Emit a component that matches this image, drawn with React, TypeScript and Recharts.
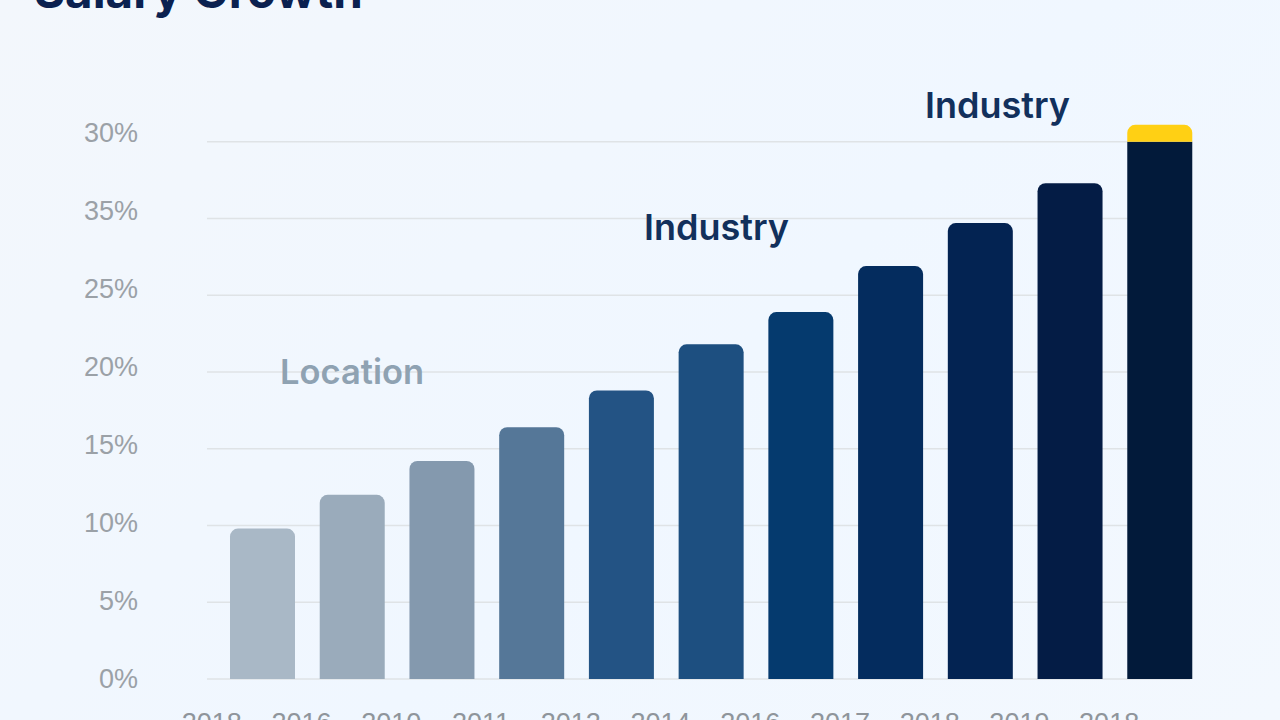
import { Bar, BarChart, CartesianGrid, Cell, XAxis, YAxis } from "recharts";

const years = ["2018", "2016", "2010", "2011", "2012", "2014", "2016", "2017", "2018", "2019", "2018"];
const growth = [9.8, 12, 14.2, 16.4, 18.8, 21.8, 23.9, 26.9, 29.7, 32.3, 35];
const highlight = [0, 0, 0, 0, 0, 0, 0, 0, 0, 0, 1.1];
const barColors = [
    "#a9b8c6", "#9aabbb", "#8499ae", "#557798", "#235384", "#1d4f80",
    "#053a6e", "#042c5e", "#032352", "#041c45", "#021a3a",
];
const yTicks = [0, 5, 10, 15, 20, 25, 30, 35];
const yLabels = ["0%", "5%", "10%", "15%", "20%", "25%", "35%", "30%"];

const data = years.map((year, i) => ({ key: i, year, growth: growth[i], highlight: highlight[i] }));

const axisFont = "'Liberation Sans', sans-serif";
const noteFont = "Inter, sans-serif";

function YTick(props: any) {
    const i = yTicks.indexOf(props.payload.value);
    return (
        <text
            x={138}
            y={props.y - i * 1.2}
            textAnchor="end"
            dominantBaseline="central"
            fontFamily={axisFont}
            fontSize={27}
            fill="#9ba1a7"
        >
            {yLabels[i]}
        </text>
    );
}

function Note(props: { x: number; y: number; size: number; color: string; text: string }) {
    return (
        <div
            style={{
                position: "absolute",
                left: props.x,
                top: props.y,
                color: props.color,
                fontFamily: noteFont,
                fontSize: props.size,
                fontWeight: 600,
                lineHeight: "40px",
                whiteSpace: "nowrap",
            }}
        >
            {props.text}
        </div>
    );
}

export default function App() {
    return (
        <div
            style={{
                position: "fixed",
                left: 0,
                top: 0,
                width: 1280,
                height: 720,
                overflow: "hidden",
                background: "linear-gradient(135deg, #f3f7fc 0%, #f0f7ff 55%, #f3f8fe 100%)",
            }}
        >
            <BarChart
                width={1280}
                height={720}
                data={data}
                margin={{ top: 111, right: 90, bottom: 0, left: 0 }}
                barSize={65}
            >
                <CartesianGrid vertical={false} stroke="#dfe3e6" strokeWidth={1.5} horizontalValues={yTicks} />
                <XAxis
                    dataKey="key"
                    tickFormatter={(_, i) => years[i]}
                    interval={0}
                    height={41}
                    padding={{ left: 11, right: -15 }}
                    axisLine={false}
                    tickLine={false}
                    dx={-51}
                    tickMargin={28}
                    tick={{ fontFamily: axisFont, fontSize: 27, fill: "#8f959b" }}
                />
                <YAxis
                    width={207}
                    domain={[0, 37]}
                    ticks={yTicks}
                    axisLine={false}
                    tickLine={false}
                    tick={YTick}
                />
                <Bar dataKey="growth" stackId="a" radius={[8, 8, 0, 0]} isAnimationActive={false}>
                    {data.map((entry, i) => (
                        <Cell
                            key={`cell-${i}`}
                            fill={barColors[i]}
                            {...(highlight[i] > 0 ? { radius: 0 } : {})}
                        />
                    ))}
                </Bar>
                <Bar
                    dataKey="highlight"
                    stackId="a"
                    fill="#ffd014"
                    radius={[8, 8, 0, 0]}
                    isAnimationActive={false}
                />
            </BarChart>
            <div
                style={{
                    position: "absolute",
                    left: 34,
                    top: -34,
                    color: "#0b2150",
                    fontFamily: noteFont,
                    fontSize: 47.5,
                    fontWeight: 700,
                    lineHeight: "50px",
                    whiteSpace: "nowrap",
                }}
            >
                Salary Growth
            </div>
            <Note x={280} y={352} size={34.5} color="#8fa2b2" text="Location" />
            <Note x={644} y={207} size={36} color="#12305c" text="Industry" />
            <Note x={925} y={85} size={36} color="#12305c" text="Industry" />
        </div>
    );
}
